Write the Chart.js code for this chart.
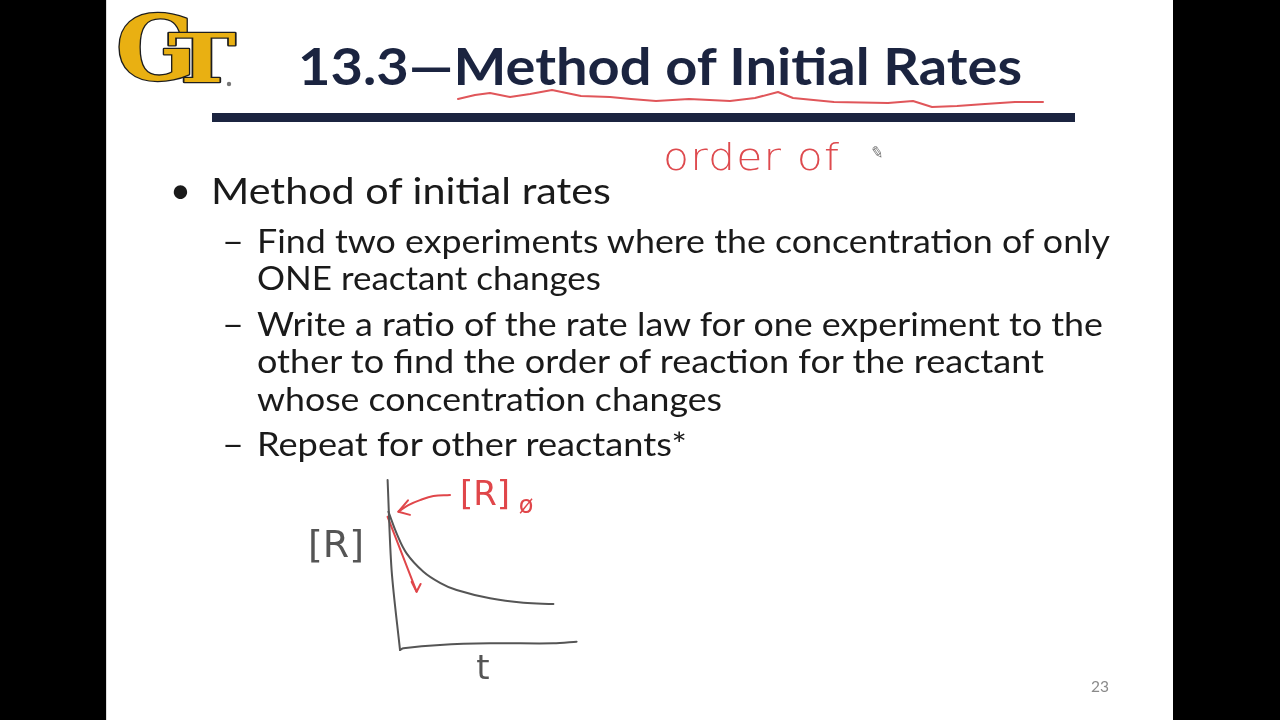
<!DOCTYPE html>
<html>
<head>
<meta charset="utf-8">
<script src="https://cdn.jsdelivr.net/npm/chart.js@4.4.1/dist/chart.umd.min.js"></script>
<style>
  html,body{margin:0;padding:0;width:1280px;height:720px;overflow:hidden;background:#000;}
  #slide{position:absolute;left:106px;top:0;width:1067px;height:720px;background:#fff;border-left:1px solid #dcdcdc;box-sizing:border-box;}
  .t{position:absolute;white-space:nowrap;transform-origin:0 0;line-height:1;}
  #chartBox{position:absolute;left:290px;top:470px;width:310px;height:220px;}
  #logo{position:absolute;left:110px;top:6px;}
</style>
</head>
<body>
<div id="slide"></div>
<div id="chartBox"><canvas id="c" width="310" height="220"></canvas></div>
<canvas id="logo" width="135" height="84"></canvas>
<svg id="ink" width="1280" height="720" style="position:absolute;left:0;top:0;pointer-events:none"></svg>
<script>
// ---- chart data (t in arbitrary time units, [R] relative to [R]0) ----
const curveT   = [-0.08, 0.33, 0.83, 1.67, 2.5, 3.33, 5.0, 6.67, 8.17];
const curveR   = [0.988, 0.831, 0.686, 0.553, 0.473, 0.42, 0.36, 0.328, 0.319];
const yAxisT   = [-0.12, 0.08, 0.5];
const yAxisR   = [1.217, 0.565, -0.014];
const xAxisT   = [0.5, 0.67, 2.5, 5.0, 8.17, 9.33];
const xAxisR   = [-0.014, -0.002, 0.022, 0.034, 0.034, 0.046];
const tangentT = [-0.12, 1.33];
const tangentR = [0.951, 0.408];
const tanHeadT = [1.08, 1.33, 1.53];
const tanHeadR = [0.48, 0.408, 0.464];
const r0ArrowT = [3.0, 2.17, 1.5, 0.92, 0.42];
const r0ArrowR = [1.109, 1.101, 1.072, 1.036, 0.988];
const r0HeadT  = [0.9, 0.42, 1.0];
const r0HeadR  = [1.07, 0.988, 0.965];
const axisLabels = ['[R]', 't'];
const startLabel = ['[R]', 'ø'];

// ---- slide text ----
const titleText = '13.3\u2014Method of Initial Rates';
const bulletText = 'Method of initial rates';
const subLines = [
  'Find two experiments where the concentration of only',
  'ONE reactant changes',
  'Write a ratio of the rate law for one experiment to the',
  'other to find the order of reaction for the reactant',
  'whose concentration changes',
  'Repeat for other reactants*'
];
const dashLines = [0, 2, 5];
const pageNum = '23';
const inkNote = 'order of';

const zip = (a, b) => a.map((v, i) => ({x: v, y: b[i]}));

const items = [];
function addText(txt, left, baseline, fs, width, style) {
  const d = document.createElement('div');
  d.className = 't';
  d.textContent = txt;
  d.style.left = left + 'px';
  d.style.fontSize = fs + 'px';
  d.style.top = (baseline - 0.887 * fs) + 'px';
  Object.assign(d.style, style || {});
  document.body.appendChild(d);
  if (width) items.push([d, width]);
  return d;
}
const body = {fontFamily: 'Lato, "Open Sans", sans-serif', color: '#1a1a1a'};
addText(titleText, 298, 85, 52, 724, {fontFamily: 'Lato, "Open Sans", sans-serif', fontWeight: '700', color: '#1b2440'});
addText('\u2022', 170, 203, 36, 0, body);
addText(bulletText, 211, 204, 36, 400, body);
const subBase = [253, 290, 336, 373, 411, 456];
const subW = [853, 344, 846, 787, 465, 430];
subLines.forEach((s, i) => {
  addText(s, 257, subBase[i], 32, subW[i], body);
});
dashLines.forEach(i => addText('\u2013', 222, subBase[i], 32, 22, body));
addText(pageNum, 1091, 692, 15, 18, {fontFamily: 'Lato, sans-serif', color: '#8a8a8a'});
addText(inkNote, 663, 172, 38, 177, {fontFamily: '"DejaVu Sans", sans-serif', fontWeight: '300', color: '#de4a4e', letterSpacing: '1px'});
addText('\u270E', 872, 158, 16, 0, {fontFamily: '"DejaVu Sans", sans-serif', color: '#777', transform: 'rotate(10deg)'});

function fit() {
  items.forEach(([d, w]) => {
    d.style.transform = 'none';
    const nw = d.getBoundingClientRect().width;
    if (nw > 0) d.style.transform = 'scaleX(' + (w / nw) + ')';
  });
}
fit();

// GT logo (an image in the original slide) painted on its own small canvas
function drawLogo() {
  const cv = document.getElementById('logo');
  const ctx = cv.getContext('2d');
  const ox = 110, oy = 6;
  ctx.clearRect(0, 0, cv.width, cv.height);
  function glyph(ch, fs, left, baseline, inkWidth) {
    ctx.save();
    ctx.font = 'bold ' + fs + 'px "DejaVu Serif", serif';
    const m = ctx.measureText(ch);
    const w = m.actualBoundingBoxLeft + m.actualBoundingBoxRight;
    ctx.translate(left - ox, baseline - oy);
    ctx.scale(inkWidth / w, 1);
    ctx.lineWidth = 2.6;
    ctx.lineJoin = 'round';
    ctx.strokeStyle = '#1e1e1e';
    ctx.fillStyle = '#E9B012';
    ctx.strokeText(ch, m.actualBoundingBoxLeft, 0);
    ctx.fillText(ch, m.actualBoundingBoxLeft, 0);
    ctx.restore();
  }
  glyph('G', 89, 119, 80, 70);
  glyph('T', 67, 168, 82, 68);
}
drawLogo();
if (document.fonts && document.fonts.ready) document.fonts.ready.then(() => { fit(); drawLogo(); });

// navy rule, registered-mark dot and red wavy underline
const ink = document.getElementById('ink');
ink.innerHTML =
  '<rect x="212" y="113" width="863" height="9" fill="#1b2440"/>' +
  '<circle cx="229" cy="84" r="2.2" fill="#777"/>' +
  '<polyline fill="none" stroke="#e0565a" stroke-width="2" stroke-linecap="round" stroke-linejoin="round" points="' +
  [[458,99],[475,95],[490,93],[510,97],[530,94],[552,90],[581,96],[610,97],[631,99],[656,101],[689,99],[730,101],[755,98],[778,92],[793,98],[834,102],[888,103],[913,101],[932,107],[957,106],[985,104],[1015,102],[1043,102]].map(p => p.join(',')).join(' ') + '"/>';

// ---- chart ----
const gray = '#555';
const red = '#e0464a';
const labelPlugin = {
  id: 'labels',
  afterDatasetsDraw(chart) {
    const {ctx, scales: {x, y}} = chart;
    ctx.save();
    ctx.textAlign = 'center';
    ctx.textBaseline = 'middle';
    ctx.fillStyle = gray;
    ctx.font = '38px "DejaVu Sans", sans-serif';
    ctx.fillText(axisLabels[0], x.getPixelForValue(-2.7), y.getPixelForValue(0.73));
    ctx.font = '34px "DejaVu Sans", sans-serif';
    ctx.fillText(axisLabels[1], x.getPixelForValue(4.65), y.getPixelForValue(-0.16));
    ctx.fillStyle = red;
    ctx.font = '34px "DejaVu Sans", sans-serif';
    ctx.fillText(startLabel[0], x.getPixelForValue(4.75), y.getPixelForValue(1.10));
    ctx.font = '24px "DejaVu Sans", sans-serif';
    ctx.fillText(startLabel[1], x.getPixelForValue(6.8), y.getPixelForValue(1.02));
    ctx.restore();
  }
};
const ds = (data, color, tension) => ({data, borderColor: color, borderWidth: 2, pointRadius: 0, tension: tension, fill: false, borderCapStyle: 'round', borderJoinStyle: 'round'});
new Chart(document.getElementById('c'), {
  type: 'line',
  data: {
    datasets: [
      ds(zip(yAxisT, yAxisR), gray, 0.3),
      ds(zip(xAxisT, xAxisR), gray, 0.3),
      ds(zip(curveT, curveR), gray, 0.4),
      ds(zip(tangentT, tangentR), red, 0),
      ds(zip(tanHeadT, tanHeadR), red, 0),
      ds(zip(r0ArrowT, r0ArrowR), red, 0.4),
      ds(zip(r0HeadT, r0HeadR), red, 0)
    ]
  },
  options: {
    responsive: false,
    animation: false,
    layout: {padding: 0},
    plugins: {legend: {display: false}, tooltip: {enabled: false}},
    scales: {
      x: {type: 'linear', display: false, min: -5, max: 10.5},
      y: {type: 'linear', display: false, min: -0.304, max: 1.29}
    }
  },
  plugins: [labelPlugin]
});
</script>
</body>
</html>
